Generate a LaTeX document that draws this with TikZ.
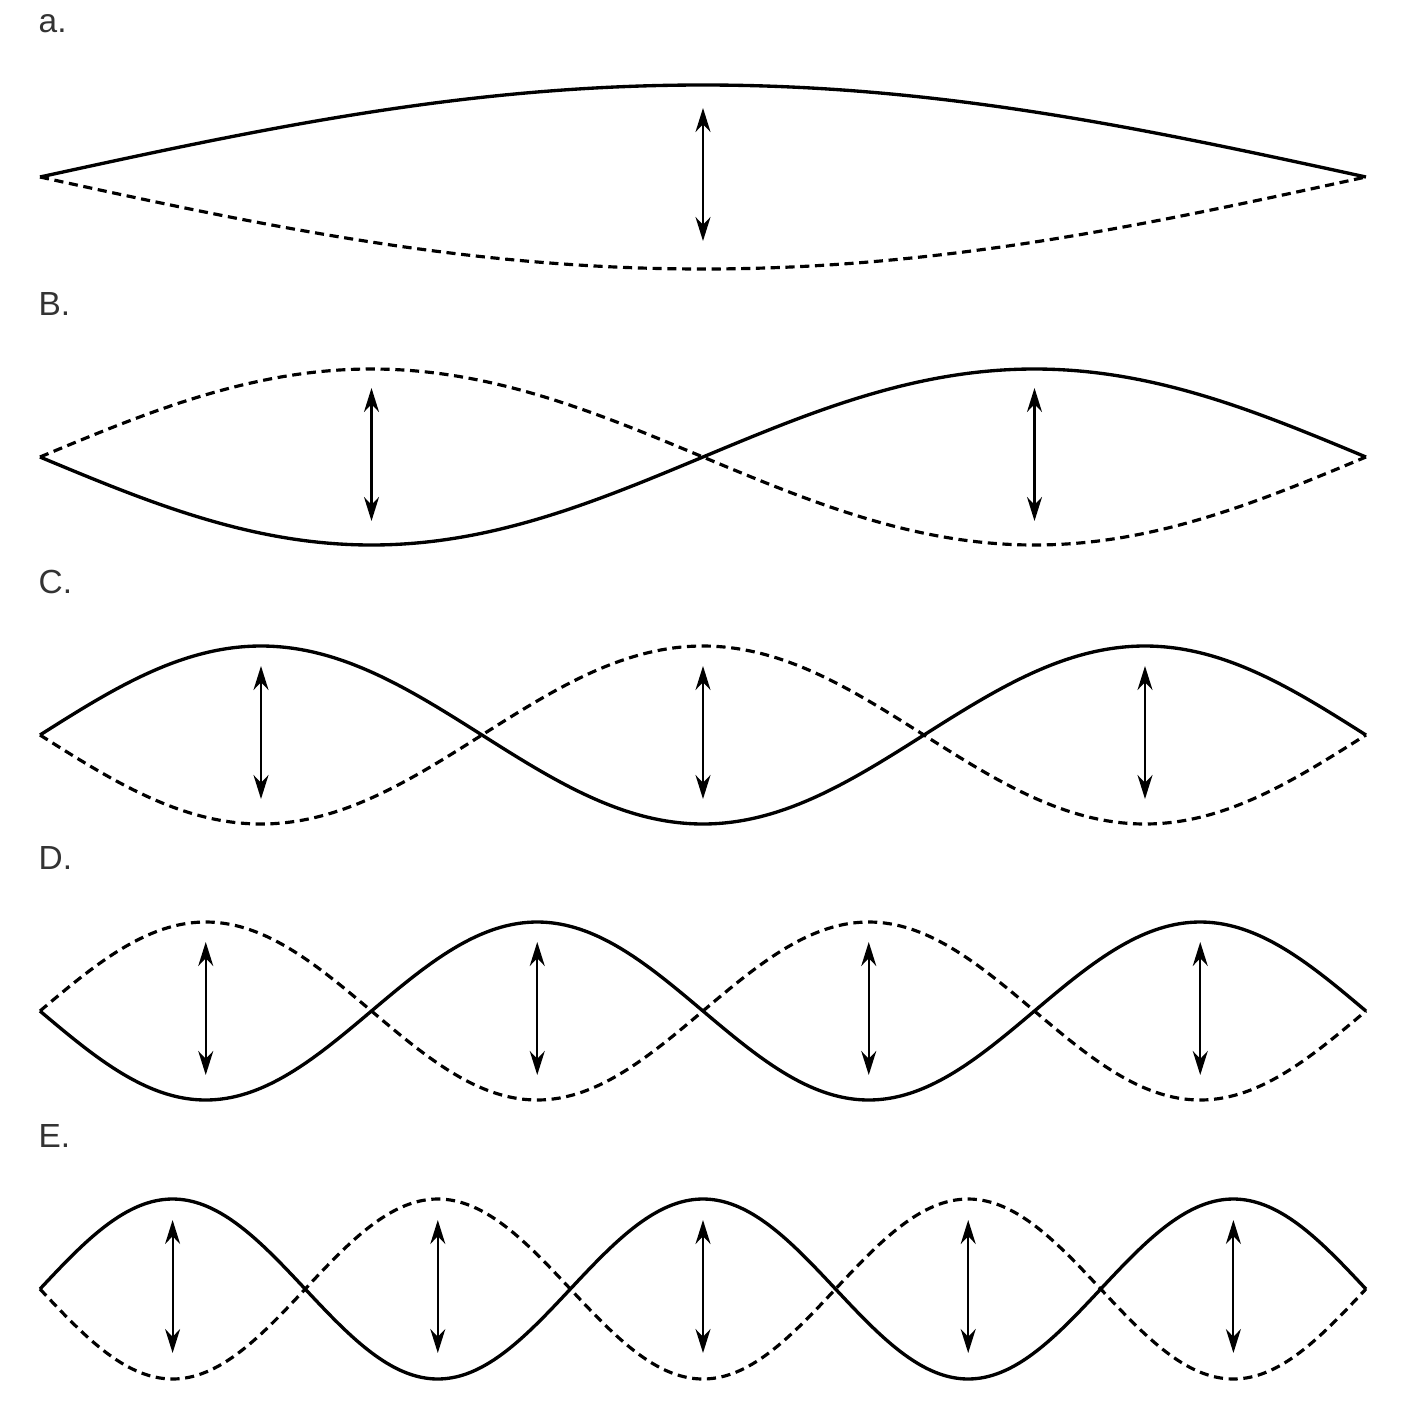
\documentclass[tikz,border=0pt]{standalone}
\usepackage{fontspec}
\setmainfont{Liberation Sans}
\usetikzlibrary{arrows.meta}
\begin{document}
\begin{tikzpicture}[x=0.01cm,y=-0.01cm,
  solidw/.style={line width=0.95pt,black},
  dashw/.style={line width=0.9pt,black,dash pattern=on 2.6pt off 1.6pt},
  dbl/.style={line width=0.6pt,{Stealth[length=0.24cm,width=0.15cm]}-{Stealth[length=0.24cm,width=0.15cm]}},
  lbl/.style={anchor=west,text=black!80,font=\fontsize{9.5}{11}\selectfont,inner sep=0}]
\useasboundingbox (0,0) rectangle (1424,1406);
\foreach \c/\A/\n/\s/\t [count=\i] in {177/92/1/1/a., 457/88/2/-1/B., 735/89/3/1/C., 1011/89/4/-1/D., 1289/90/5/1/E.}{
  \node[lbl] (L\i) at (38,\c-153) {\t};
  \draw[solidw] plot[domain=40:1366,samples=200,smooth] (\x,{\c-\s*\A*sin(0.13575*\n*(\x-40))});
  \draw[dashw] plot[domain=40:1366,samples=200,smooth] (\x,{\c+\s*\A*sin(0.13575*\n*(\x-40))});
  \foreach \k in {1,...,\n}{
    \coordinate (t\i\k) at ({40+1326*(\k-0.5)/\n},\c-69);
    \coordinate (b\i\k) at ({40+1326*(\k-0.5)/\n},\c+64);
    \draw[dbl] (t\i\k) -- (b\i\k);
  }
}
\end{tikzpicture}
\end{document}
